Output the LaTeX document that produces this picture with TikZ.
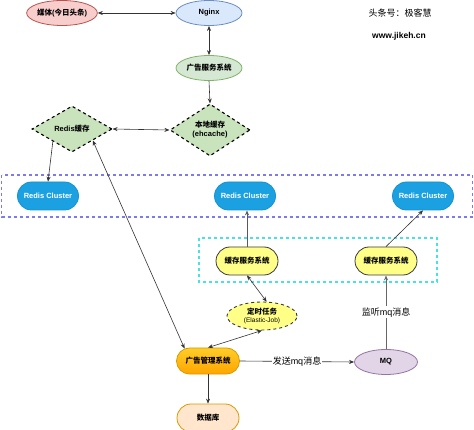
\documentclass[tikz,border=0pt]{standalone}
\usepackage{fontspec}
\setmainfont{Liberation Sans}
\newfontfamily\cjk{Noto Sans CJK SC}
\usetikzlibrary{shapes.geometric,shapes.misc,arrows.meta}
\definecolor{mediaF}{HTML}{F8CECC}\definecolor{mediaD}{HTML}{B85450}
\definecolor{ngF}{HTML}{DAE8FC}\definecolor{ngD}{HTML}{6C8EBF}
\definecolor{grF}{HTML}{D5E8D4}\definecolor{grD}{HTML}{82B366}
\definecolor{dmF}{HTML}{C9E4BC}
\definecolor{rcF}{HTML}{1BA1E2}\definecolor{rcD}{HTML}{1592CF}
\definecolor{ylF}{HTML}{FFFF88}\definecolor{ylD}{HTML}{36393D}
\definecolor{orT}{HTML}{FFCD28}\definecolor{orB}{HTML}{FFA500}\definecolor{orD}{HTML}{D79B00}
\definecolor{dbF}{HTML}{FFE6CC}
\definecolor{mqF}{HTML}{E1D5E7}\definecolor{mqD}{HTML}{9673A6}
\definecolor{boxBlue}{HTML}{7A7AF2}
\definecolor{boxCyan}{HTML}{45E3E3}
\definecolor{lineC}{HTML}{333333}
\begin{document}
\begin{tikzpicture}[x=1pt,y=-1pt,
  font=\fontsize{7.5}{9}\selectfont\bfseries,
  base/.style={inner sep=0pt, align=center, line width=0.8pt},
  ell/.style={base, ellipse, minimum width=66, minimum height=25},
  stad/.style={base, rounded rectangle, minimum width=62, minimum height=28},
  dia/.style={base, diamond, minimum width=80, minimum height=46, fill=dmF, draw=black, dashed, line width=1.1pt},
  rcl/.style={stad, fill=rcF, draw=rcD, text=white, minimum width=61},
  cache/.style={stad, fill=ylF, draw=ylD},
  conn/.style={draw=lineC, line width=0.6pt, -{Stealth[length=5pt,width=4pt]}},
  dconn/.style={draw=lineC, line width=0.6pt, {Stealth[length=5pt,width=4pt]}-{Stealth[length=5pt,width=4pt]}},
  lbl/.style={fill=white, inner sep=1pt, font=\fontsize{9}{10}\selectfont\mdseries}
]
\useasboundingbox (0,0) rectangle (474,430);

% dashed group boxes
\draw[boxBlue, line width=1.1pt, dash pattern=on 3pt off 3pt] (1.5,175) rectangle (472.5,217);
\draw[boxCyan, line width=1.1pt, dash pattern=on 3pt off 3pt] (199,238) rectangle (437,282);

% nodes
\node[ell, fill=mediaF, draw=mediaD] (media) at (62,13) {{\cjk 媒体}({\cjk 今日头条})};
\node[ell, fill=ngF, draw=ngD] (nginx) at (209,13) {Nginx};
\node[ell, fill=grF, draw=grD] (ads) at (209,68) {\cjk 广告服务系统};
\node[dia] (redis) at (72,129) {Redis{\cjk 缓存}};
\node[dia] (local) at (210,130) {{\cjk 本地缓存}\\(ehcache)};
\node[rcl] (rcL) at (48,196) {Redis Cluster};
\node[rcl] (rcM) at (245,196) {Redis Cluster};
\node[rcl] (rcR) at (423,196) {Redis Cluster};
\node[cache] (cacheL) at (247,261) {\cjk 缓存服务系统};
\node[cache] (cacheR) at (386,261) {\cjk 缓存服务系统};
\node[base, ellipse, minimum width=70, minimum height=28, fill=ylF, draw=ylD, dashed, line width=0.9pt] (job) at (262,316)
  {{\cjk 定时任务}\\[-1pt]{\mdseries\fontsize{6.5}{7.5}\selectfont (Elastic-Job)}};
\node[stad, minimum width=63, minimum height=26, top color=orT, bottom color=orB, draw=orD] (mgmt) at (208,361) {\cjk 广告管理系统};
\node[stad, minimum width=62, minimum height=28, fill=dbF, draw=orD] (db) at (208,418) {\cjk 数据库};
\node[ell, minimum width=63, minimum height=25, fill=mqF, draw=mqD] (mq) at (386,362) {MQ};

\node[font=\fontsize{9}{10}\selectfont\mdseries] (brand) at (400,13) {\cjk 头条号：极客慧};
\node[font=\fontsize{8.5}{10}\selectfont\bfseries] (site) at (399,36) {www.jikeh.cn};

% connectors
\draw[dconn] (media.east) -- (nginx.west);
\draw[dconn] (nginx.south) -- (ads.north);
\draw[conn] (ads.south) -- (local.north);
\draw[dconn] (redis.east) -- (local.west);
\draw[conn] (redis.213) -- (rcL.north);
\draw[dconn] (redis.331) -- (mgmt.152);
\draw[conn, draw=black!65, line width=0.9pt] (cacheL.north) -- (cacheL.north |- rcM.south);
\draw[conn] (cacheR.north) -- (rcR.south);
\draw[dconn] (cacheL.south) -- (job.72);
\draw[dconn] (mgmt.north) -- (job.south);
\draw[conn] (mgmt.south) -- (db.north);
\draw[conn] (mgmt.east) -- node[lbl] {{\cjk 发送}mq{\cjk 消息}} (mq.west);
\draw[conn, draw=black!60, line width=0.9pt] (mq.north) -- node[lbl] {{\cjk 监听}mq{\cjk 消息}} (cacheR.south);
\end{tikzpicture}
\end{document}
